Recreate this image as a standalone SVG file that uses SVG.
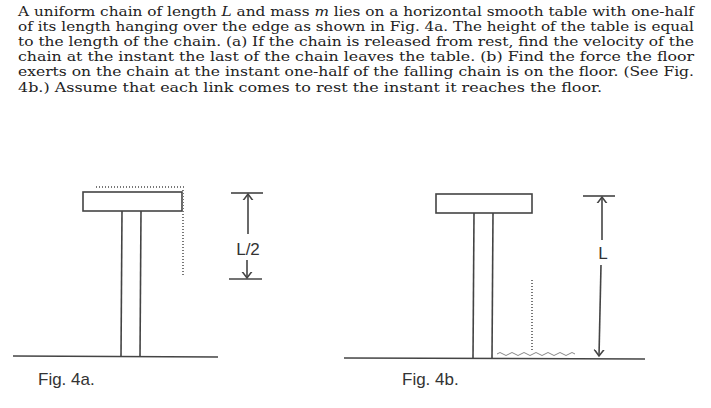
<svg xmlns="http://www.w3.org/2000/svg" width="711" height="408" viewBox="0 0 711 408">
<style>
.t{font-family:"DejaVu Serif",serif;font-size:13.6px;fill:#222}
.s{font-family:"Liberation Sans",Arial,sans-serif;font-size:17px;fill:#333}
.l{stroke:#444;stroke-width:1.6;fill:none}
.c{stroke:#777;stroke-width:2;stroke-dasharray:1 2;fill:none}
</style>
<defs><marker id="a" markerWidth="8" markerHeight="8" refX="4" refY="4" orient="auto"><path d="M0,1L4,4L0,7" fill="none" stroke="#444" stroke-width="1"/></marker></defs>
<g id="text">
<text class="t" x="18" y="16" textLength="676" lengthAdjust="spacingAndGlyphs">A uniform chain of length <tspan font-style="italic">L</tspan> and mass <tspan font-style="italic">m</tspan> lies on a horizontal smooth table with one-half</text>
<text class="t" x="18" y="31" textLength="676" lengthAdjust="spacingAndGlyphs">of its length hanging over the edge as shown in Fig. 4a. The height of the table is equal</text>
<text class="t" x="18" y="46" textLength="676" lengthAdjust="spacingAndGlyphs">to the length of the chain. (a) If the chain is released from rest, find the velocity of the</text>
<text class="t" x="18" y="61" textLength="676" lengthAdjust="spacingAndGlyphs">chain at the instant the last of the chain leaves the table. (b) Find the force the floor</text>
<text class="t" x="18" y="76" textLength="676" lengthAdjust="spacingAndGlyphs">exerts on the chain at the instant one-half of the falling chain is on the floor. (See Fig.</text>
<text class="t" x="18" y="92" textLength="584" lengthAdjust="spacingAndGlyphs">4b.) Assume that each link comes to rest the instant it reaches the floor.</text>
</g>
<g id="fig4a">
<rect class="l" x="83" y="192" width="99" height="19"/>
<line class="l" x1="122" y1="211" x2="121" y2="356"/>
<line class="l" x1="141" y1="211" x2="140" y2="356"/>
<line class="l" x1="13" y1="356" x2="218" y2="357"/>
<line class="c" x1="96" y1="187" x2="184" y2="187"/>
<line class="c" x1="183" y1="190" x2="183" y2="277"/>
<text class="s" x="38" y="385">Fig. 4a.</text>
</g>
<g id="fig4b">
<rect class="l" x="436" y="194" width="96" height="19"/>
<line class="l" x1="474" y1="213" x2="473" y2="358"/>
<line class="l" x1="493" y1="213" x2="492" y2="358"/>
<line class="l" x1="344" y1="358" x2="645" y2="359"/>
<line class="c" x1="532" y1="280" x2="532" y2="352"/>
<path d="M497,354 q3,-3 6,0 t6,0 t6,0 t6,0 t6,0 t6,0 t6,0 t6,0 t6,0 t6,0 t6,0 t6,0 t6,0" stroke="#888" stroke-width="1" fill="none"/>
<text class="s" x="402" y="385">Fig. 4b.</text>
</g>
<g id="connectors">
<line class="l" x1="231" y1="193" x2="263" y2="193"/>
<line class="l" x1="229" y1="279" x2="262" y2="279"/>
<line class="l" x1="248" y1="234" x2="248" y2="194" marker-end="url(#a)"/>
<line class="l" x1="247" y1="260" x2="247" y2="278" marker-end="url(#a)"/>
<text class="s" x="248" y="255" text-anchor="middle">L/2</text>
<line class="l" x1="602" y1="240" x2="602" y2="197" marker-end="url(#a)"/>
<line class="l" x1="583" y1="196" x2="615" y2="196"/>
<line class="l" x1="601" y1="265" x2="599" y2="356" marker-end="url(#a)"/>
<text class="s" x="603" y="259" text-anchor="middle">L</text>
</g>
</svg>
